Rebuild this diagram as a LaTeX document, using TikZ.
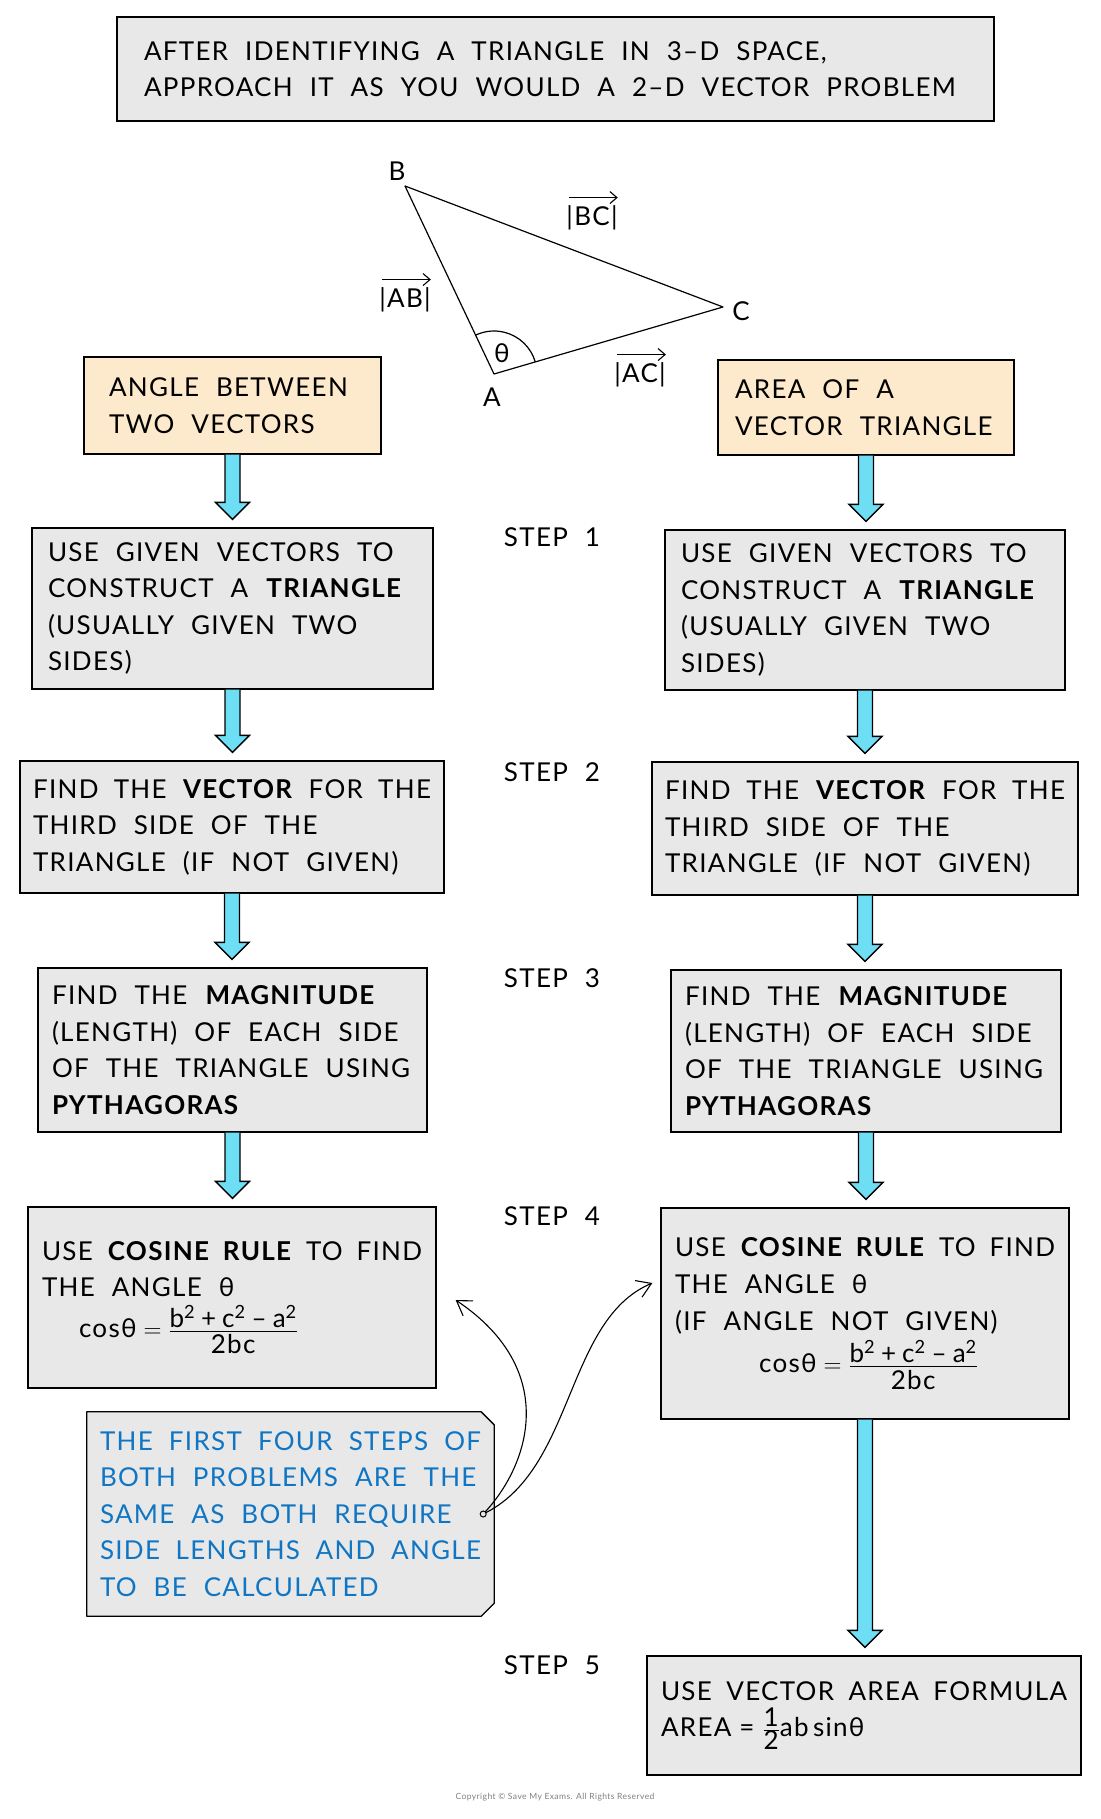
\documentclass[tikz,border=0pt]{standalone}
\usepackage{fontspec}
\setmainfont[LetterSpace=5]{Lato}
\usetikzlibrary{calc,arrows.meta,backgrounds}
\definecolor{boxgray}{RGB}{232,232,232}
\definecolor{boxorange}{RGB}{253,233,203}
\definecolor{arrowcyan}{RGB}{110,222,245}
\definecolor{noteblue}{RGB}{16,118,196}
\newcommand\fs{\fontsize{26}{36.6}\selectfont}
\newcommand\wsp{\spaceskip=17pt plus 2pt minus 8pt\relax}
\newcommand\cosfrac{$\mbox{cosθ} = \frac{\mbox{\spaceskip=6pt b\textsuperscript{2} + c\textsuperscript{2} – a\textsuperscript{2}}\vphantom{\rule{0pt}{22pt}}}{\mbox{2bc}\vphantom{\rule{0pt}{22pt}}}$}
\newcommand\blockarrow[2]{%
  \path[draw=black, line width=1.3pt, fill=arrowcyan, line join=miter]
  let \p1=(#1.south), \p2=(#2.north) in
  (\x1-7.5pt,\y1) -- (\x1-7.5pt,\y2+25pt) -- (\x1-17pt,\y2+25pt) -- (\x1,\y2+8pt)
  -- (\x1+17pt,\y2+25pt) -- (\x1+7.5pt,\y2+25pt) -- (\x1+7.5pt,\y1);
}
\tikzset{
  base/.style={draw=black, line width=1.3pt, font=\fs, align=left, inner ysep=0pt,
               execute at begin node=\wsp},
  greybox/.style={base, fill=boxgray},
  orangebox/.style={base, fill=boxorange},
  lbl/.style={font=\fs, inner sep=0pt, execute at begin node=\wsp},
  curvearrow/.style={line width=1.1pt, -{Straight Barb[length=14pt,width=18pt]}},
  vecarrow/.style={line width=1.1pt, -{Straight Barb[length=7pt,width=12pt]}},
}
\begin{document}
\begin{tikzpicture}[x=1pt,y=-1pt]
\begin{pgfonlayer}{background}
\fill[white] (0,0) rectangle (1100,1819);
\end{pgfonlayer}
\useasboundingbox (0,0) rectangle (1100,1819);

% title
\node[greybox, minimum width=877pt, minimum height=104pt, text width=823pt, inner xsep=27pt] (title) at (555.5,69)
 {AFTER IDENTIFYING A TRIANGLE IN 3–D SPACE,\\APPROACH IT AS YOU WOULD A 2–D VECTOR PROBLEM};

% triangle
\coordinate (A) at (494,374);
\coordinate (B) at (405,186);
\coordinate (C) at (723,307);
\draw[line width=1.2pt, line join=round] (A) -- (B) -- (C) -- cycle;
\draw[line width=1.2pt] (A) ++(-16.3:43) arc[start angle=-16.3, end angle=-115.3, radius=43];
\node[lbl] (lA) at (492,397) {A};
\node[lbl] (lB) at (397,171) {B};
\node[lbl] (lC) at (741,311) {C};
\node[lbl] (lth) at (502,353) {θ};
\node[lbl] (lAB) at (405,300) {|AB|};
\node[lbl] (lBC) at (592,218) {|BC|};
\node[lbl] (lAC) at (640,375) {|AC|};
\draw[vecarrow] ($(lAB.north west)+(3,-8)$) -- ($(lAB.north east)+(0,-8)$);
\draw[vecarrow] ($(lBC.north west)+(3,-8)$) -- ($(lBC.north east)+(0,-8)$);
\draw[vecarrow] ($(lAC.north west)+(3,-8)$) -- ($(lAC.north east)+(0,-8)$);

% orange boxes
\node[orangebox, minimum width=297pt, minimum height=97pt, text width=247pt, inner xsep=25pt] (oL) at (232.5,405.5)
 {ANGLE BETWEEN\\TWO VECTORS};
\node[orangebox, minimum width=296pt, minimum height=95pt, text width=262pt, inner xsep=17pt] (oR) at (866,407.5)
 {AREA OF A\\VECTOR TRIANGLE};

% step labels
\node[lbl] (st1) at (552,537) {STEP 1};
\node[lbl] (st2) at (552,772) {STEP 2};
\node[lbl] (st3) at (552,978) {STEP 3};
\node[lbl] (st4) at (552,1216) {STEP 4};
\node[lbl] (st5) at (552,1665) {STEP 5};

% step 1
\node[greybox, minimum width=401pt, minimum height=161pt, text width=369pt, inner xsep=16pt] (s1L) at (232.5,608.5)
 {USE GIVEN VECTORS TO\\CONSTRUCT A \textbf{TRIANGLE}\\(USUALLY GIVEN TWO\\SIDES)};
\node[greybox, minimum width=400pt, minimum height=160pt, text width=368pt, inner xsep=16pt] (s1R) at (865,610)
 {USE GIVEN VECTORS TO\\CONSTRUCT A \textbf{TRIANGLE}\\(USUALLY GIVEN TWO\\SIDES)};

% step 2
\node[greybox, minimum width=424pt, minimum height=132pt, text width=398pt, inner xsep=13pt] (s2L) at (232,827)
 {FIND THE \textbf{VECTOR} FOR THE\\THIRD SIDE OF THE\\TRIANGLE (IF NOT GIVEN)};
\node[greybox, minimum width=426pt, minimum height=133pt, text width=400pt, inner xsep=13pt] (s2R) at (865,828.5)
 {FIND THE \textbf{VECTOR} FOR THE\\THIRD SIDE OF THE\\TRIANGLE (IF NOT GIVEN)};

% step 3
\node[greybox, minimum width=389pt, minimum height=164pt, text width=361pt, inner xsep=14pt] (s3L) at (232.5,1050)
 {FIND THE \textbf{MAGNITUDE}\\(LENGTH) OF EACH SIDE\\OF THE TRIANGLE USING\\\textbf{PYTHAGORAS}};
\node[greybox, minimum width=390pt, minimum height=162pt, text width=362pt, inner xsep=14pt] (s3R) at (866,1051)
 {FIND THE \textbf{MAGNITUDE}\\(LENGTH) OF EACH SIDE\\OF THE TRIANGLE USING\\\textbf{PYTHAGORAS}};

% step 4
\node[greybox, minimum width=408pt, minimum height=181pt, text width=380pt, inner xsep=14pt] (s4L) at (232,1297.5)
 {USE \textbf{COSINE RULE} TO FIND\\THE ANGLE θ\\[4pt]
  \hspace*{37pt}\cosfrac};
\node[greybox, minimum width=408pt, minimum height=211pt, text width=380pt, inner xsep=14pt] (s4R) at (865,1313.5)
 {USE \textbf{COSINE RULE} TO FIND\\THE ANGLE θ\\(IF ANGLE NOT GIVEN)\\[6pt]
  \hspace*{84pt}\cosfrac};

% step 5
\node[greybox, minimum width=434pt, minimum height=119pt, text width=406pt, inner xsep=14pt] (s5R) at (864,1715.5)
 {USE VECTOR AREA FORMULA\\{\spaceskip=8pt AREA = $\frac{\mbox{1}}{\mbox{2}}$ab\,sinθ}};

% note
\node[font=\fs\color{noteblue}, execute at begin node=\wsp, align=left, inner ysep=0pt, inner xsep=13pt,
      minimum width=407pt, minimum height=204pt, text width=381pt] (note) at (290.5,1514)
 {THE FIRST FOUR STEPS OF\\BOTH PROBLEMS ARE THE\\SAME AS BOTH REQUIRE\\SIDE LENGTHS AND ANGLE\\TO BE CALCULATED};
\begin{pgfonlayer}{background}
\draw[line width=1.3pt, fill=boxgray, line join=round]
  (note.north west) -- ($(note.north east)+(-13,0)$) -- ($(note.north east)+(0,13)$)
  -- ($(note.south east)+(0,-13)$) -- ($(note.south east)+(-13,0)$) -- (note.south west) -- cycle;
\end{pgfonlayer}

% block arrows
\blockarrow{oL}{s1L}
\blockarrow{oR}{s1R}
\blockarrow{s1L}{s2L}
\blockarrow{s1R}{s2R}
\blockarrow{s2L}{s3L}
\blockarrow{s2R}{s3R}
\blockarrow{s3L}{s4L}
\blockarrow{s3R}{s4R}
\blockarrow{s4R}{s5R}

% curved arrows
\coordinate (dot) at ($(note.east)+(-11,0)$);
\coordinate (t1) at ($(s4L.east)+(19,2.5)$);
\coordinate (t2) at ($(s4R.west)+(-8,-30.5)$);
\draw[curvearrow] (dot) .. controls (530,1465) and (560,1370) .. (t1);
\draw[curvearrow] (dot) .. controls (575,1470) and (565,1320) .. (t2);
\draw[line width=1pt, fill=boxgray] (dot) circle (3pt);

% copyright
\node[font=\fontsize{8.5}{10}\selectfont, text=gray] (cr) at (555,1797) {Copyright © Save My Exams. All Rights Reserved};
\end{tikzpicture}
\end{document}
